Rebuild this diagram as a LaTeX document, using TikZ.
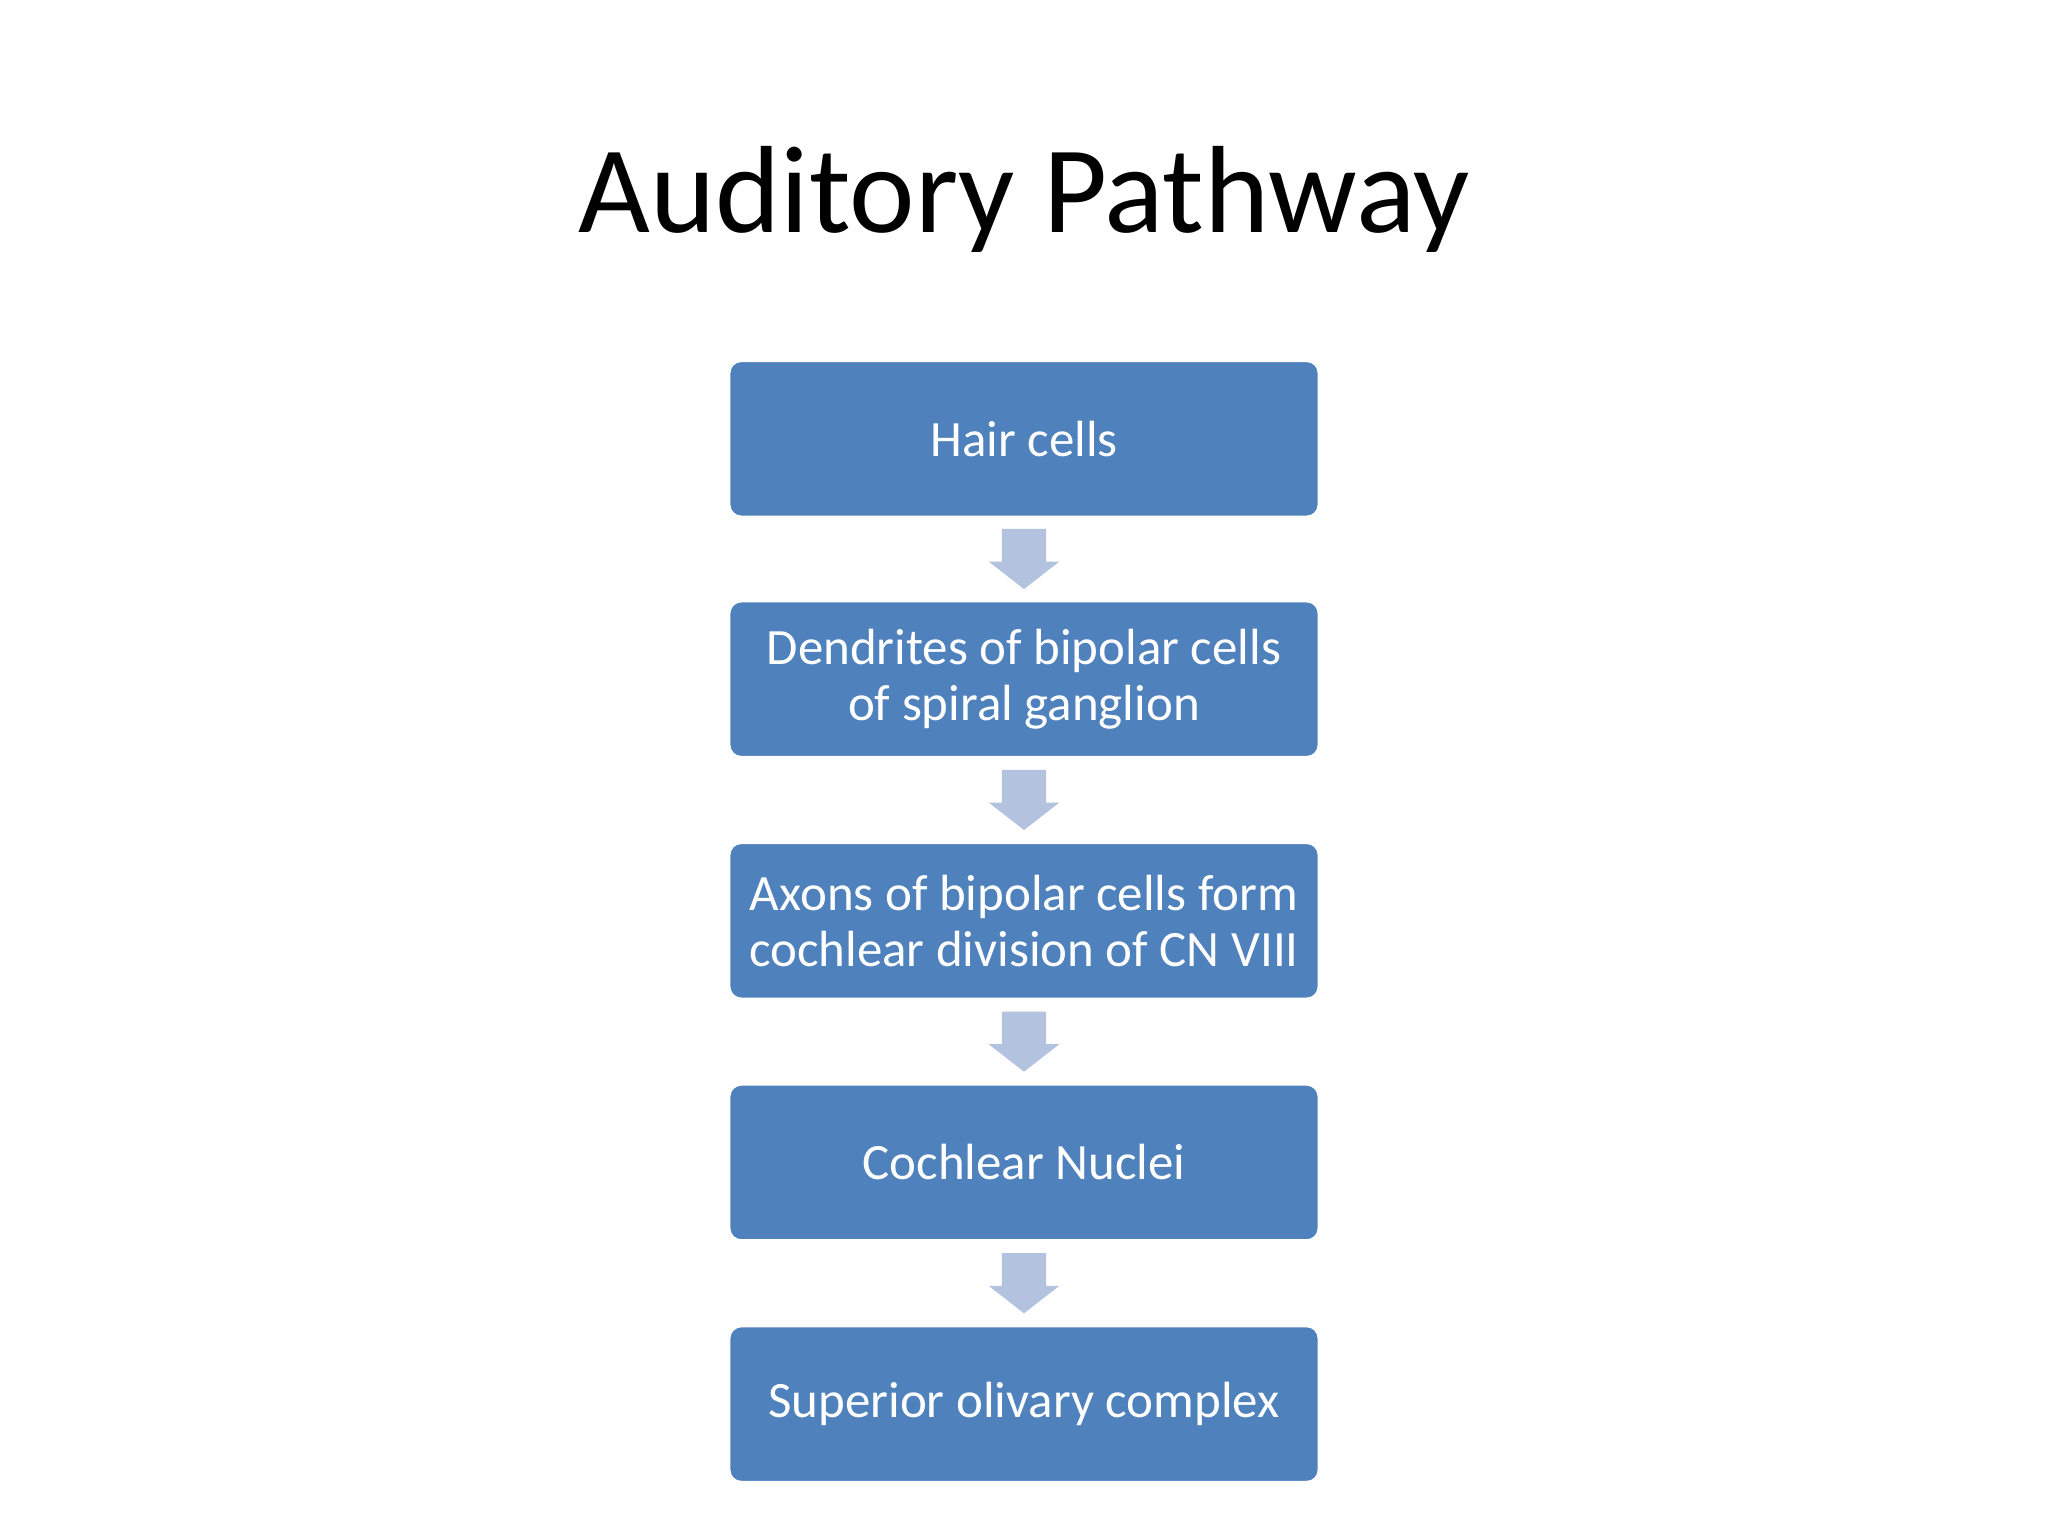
\documentclass[tikz,border=0pt]{standalone}
\usepackage{fontspec}
\setmainfont{Carlito}
\definecolor{boxblue}{HTML}{4F81BD}
\definecolor{arrblue}{HTML}{B3C2DF}
\begin{document}
\begin{tikzpicture}[x=1pt,y=1pt,
  box/.style={draw=white,line width=1.5pt,fill=boxblue,rounded corners=9pt,minimum width=451pt,minimum height=119pt,text=white,font=\fontsize{39}{43}\selectfont,align=center,inner sep=0pt},
  down/.style={fill=arrblue}]
\useasboundingbox (0,0) rectangle (1568,1176);
\fill[white] (0,0) rectangle (1568,1176);
\node[font=\fontsize{95}{110}\selectfont] (title) at (784,1023) {Auditory Pathway};
\node[box] (b1) at (784,840) {Hair cells};
\node[box] (b2) at (784,656) {Dendrites of bipolar cells\\of spiral ganglion};
\node[box] (b3) at (784,471) {Axons of bipolar cells form\\cochlear division of CN VIII};
\node[box] (b4) at (784,286) {Cochlear Nuclei};
\node[box] (b5) at (784,101) {Superior olivary complex};
\foreach \a/\b in {b1/b2,b2/b3,b3/b4,b4/b5}{
  \path (\a.south) -- (\b.north) coordinate[pos=0.5] (m);
  \fill[down] ([shift={(-17,23)}]m) -- ([shift={(17,23)}]m) -- ([shift={(17,-2)}]m) -- ([shift={(27,-2)}]m) -- ([shift={(0,-23)}]m) -- ([shift={(-27,-2)}]m) -- ([shift={(-17,-2)}]m) -- cycle;
}
\end{tikzpicture}
\end{document}
